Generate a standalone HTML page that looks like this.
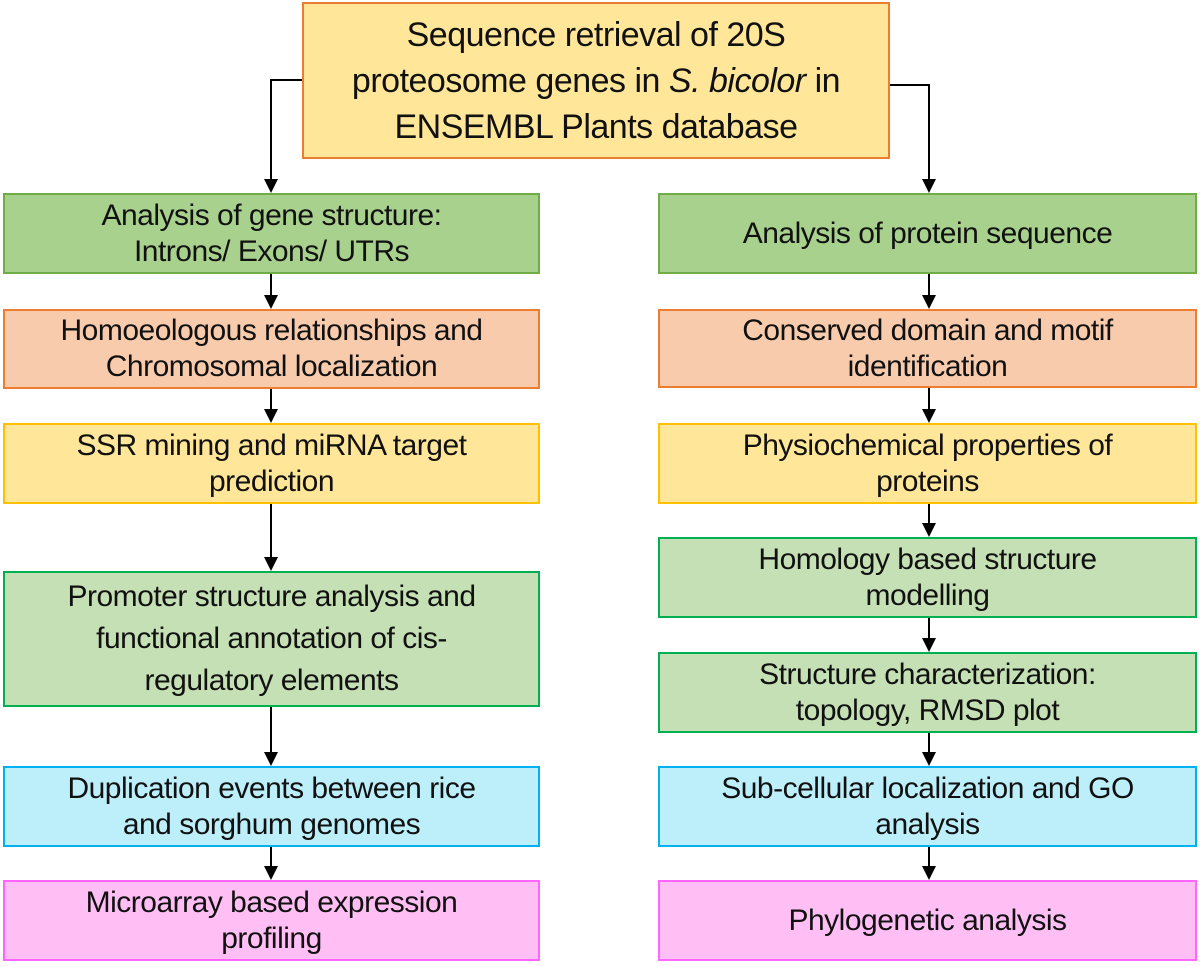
<!DOCTYPE html>
<html><head><meta charset="utf-8"><style>
body{margin:0;width:1200px;height:966px;background:#fff;position:relative;overflow:hidden;font-family:"Liberation Sans",sans-serif;}
.b{position:absolute;box-sizing:border-box;border:2px solid;display:flex;align-items:center;justify-content:center;text-align:center;font-size:30px;line-height:36px;color:#111;letter-spacing:-0.5px}
.g{background:#A9D18E;border-color:#70AD47}
.o{background:#F8CBAD;border-color:#ED7D31}
.y{background:#FFE699;border-color:#FFC000}
.lg{background:#C5E0B4;border-color:#00B050}
.bl{background:#BDEFFB;border-color:#00B0F0}
.p{background:#FFBFF5;border-color:#FF66FF}
svg{position:absolute;left:0;top:0}
</style></head><body>
<svg width="1200" height="966">
<g stroke="#000" stroke-width="2" fill="none">
<polyline points="302,80 271,80 271,182"/>
<polyline points="890,85 929,85 929,182"/>
<line x1="271" y1="273" x2="271" y2="298"/>
<line x1="271" y1="388" x2="271" y2="412"/>
<line x1="271" y1="503" x2="271" y2="560"/>
<line x1="271" y1="706" x2="271" y2="755"/>
<line x1="271" y1="846" x2="271" y2="869"/>
<line x1="929" y1="273" x2="929" y2="298"/>
<line x1="929" y1="387" x2="929" y2="412"/>
<line x1="929" y1="503" x2="929" y2="526"/>
<line x1="929" y1="617" x2="929" y2="641"/>
<line x1="929" y1="732" x2="929" y2="755"/>
<line x1="929" y1="846" x2="929" y2="869"/>
</g>
<g fill="#000">
<path d="M264,179 L278,179 L271,193z"/><path d="M922,179 L936,179 L929,193z"/>
<path d="M264,295 L278,295 L271,309z"/><path d="M264,409 L278,409 L271,423z"/>
<path d="M264,557 L278,557 L271,571z"/><path d="M264,752 L278,752 L271,766z"/>
<path d="M264,866 L278,866 L271,880z"/>
<path d="M922,295 L936,295 L929,309z"/><path d="M922,409 L936,409 L929,423z"/>
<path d="M922,523 L936,523 L929,537z"/><path d="M922,638 L936,638 L929,652z"/>
<path d="M922,752 L936,752 L929,766z"/><path d="M922,866 L936,866 L929,880z"/>
</g>
</svg>
<div class="b y" style="left:302px;top:2px;width:588px;height:157px;border-color:#ED7D31;font-size:34px;line-height:46px"><div>Sequence retrieval of 20S<br>proteosome genes in <i>S. bicolor</i> in<br>ENSEMBL Plants database</div></div>
<div class="b g" style="left:3px;top:193px;width:537px;height:81px"><div>Analysis of gene structure:<br>Introns/ Exons/ UTRs</div></div>
<div class="b o" style="left:3px;top:309px;width:537px;height:80px"><div>Homoeologous relationships and<br>Chromosomal localization</div></div>
<div class="b y" style="left:3px;top:423px;width:537px;height:81px"><div>SSR mining and miRNA target<br>prediction</div></div>
<div class="b lg" style="left:3px;top:571px;width:537px;height:136px;line-height:42px"><div>Promoter structure analysis and<br>functional annotation of cis-<br>regulatory elements</div></div>
<div class="b bl" style="left:3px;top:766px;width:537px;height:81px"><div>Duplication events between rice<br>and sorghum genomes</div></div>
<div class="b p" style="left:3px;top:880px;width:537px;height:81px"><div>Microarray based expression<br>profiling</div></div>
<div class="b g" style="left:658px;top:193px;width:539px;height:81px"><div>Analysis of protein sequence</div></div>
<div class="b o" style="left:658px;top:309px;width:539px;height:79px"><div>Conserved domain and motif<br>identification</div></div>
<div class="b y" style="left:658px;top:423px;width:539px;height:81px"><div>Physiochemical properties of<br>proteins</div></div>
<div class="b lg" style="left:658px;top:537px;width:539px;height:81px"><div>Homology based structure<br>modelling</div></div>
<div class="b lg" style="left:658px;top:652px;width:539px;height:81px"><div>Structure characterization:<br>topology, RMSD plot</div></div>
<div class="b bl" style="left:658px;top:766px;width:539px;height:81px"><div>Sub-cellular localization and GO<br>analysis</div></div>
<div class="b p" style="left:658px;top:880px;width:539px;height:81px"><div>Phylogenetic analysis</div></div>
</body></html>
